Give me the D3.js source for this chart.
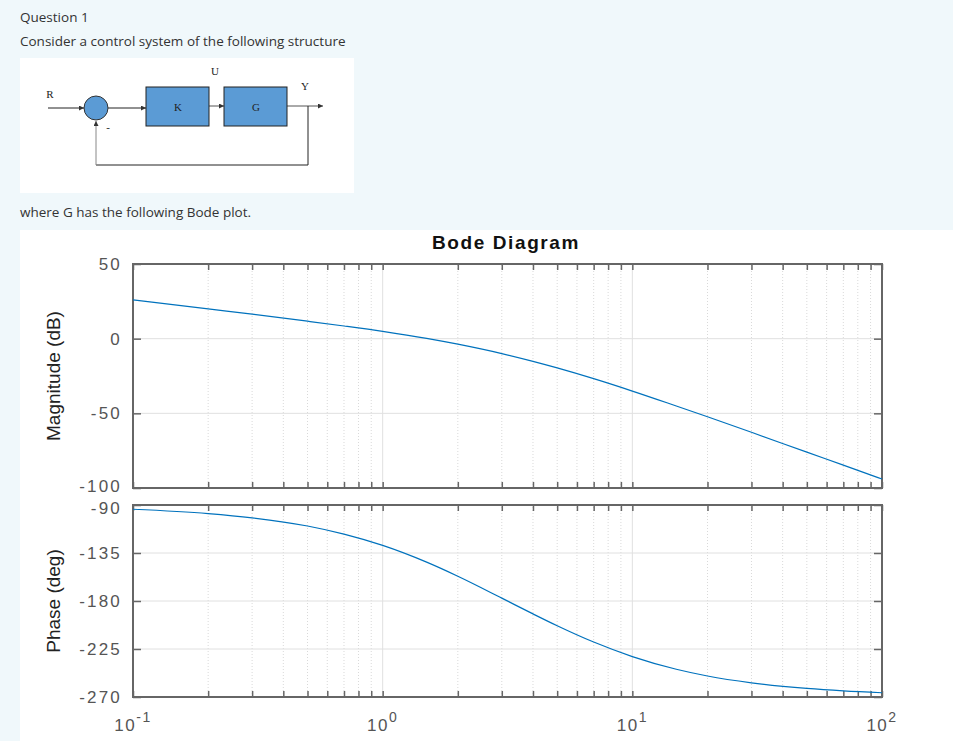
<!DOCTYPE html>
<html><head><meta charset="utf-8">
<script src="https://cdn.jsdelivr.net/npm/d3@7"></script>
<style>
body{margin:0;background:#f0f8fb;}
svg{display:block;}
</style></head>
<body>
<svg id="c" width="953" height="741"></svg>
<script>
// frequency samples (rad/s) and Bode values
const freq = [0.1,0.2,0.3,0.5,0.7,1,1.5,2,3,4,5,7,10,15,20,30,50,70,100];
const magDb = [26.0,19.9,16.4,11.7,8.5,4.9,0.2,-3.7,-10.0,-15.2,-19.6,-26.8,-35.1,-45.1,-52.3,-62.7,-76.0,-84.7,-94.0];
const phaseDeg = [-94.0,-98.0,-102.0,-109.7,-117.3,-127.9,-143.6,-156.8,-177.3,-192.1,-203.2,-218.5,-232.1,-244.0,-250.3,-256.7,-262.0,-264.3,-266.0];
const magTicks = [50,0,-50,-100];
const phaseTicks = [-90,-135,-180,-225,-270];
const decades = [0.1,1,10,100];
const decadeExp = ["-1","0","1","2"];

const svg = d3.select("#c");
const txtFont = "'Open Sans', 'Segoe UI', sans-serif";
const axFont = "Helvetica, 'Liberation Sans', Arial, sans-serif";

// question text
svg.append("text").attr("x",20).attr("y",22).attr("font-family",txtFont).attr("font-size",13.5).attr("fill","#333").text("Question 1");
svg.append("text").attr("x",20).attr("y",46).attr("font-family",txtFont).attr("font-size",13.5).attr("fill","#333").text("Consider a control system of the following structure");
svg.append("text").attr("x",20).attr("y",217).attr("font-family",txtFont).attr("font-size",13.5).attr("fill","#333").text("where G has the following Bode plot.");

// block diagram
const bd = svg.append("g");
bd.append("rect").attr("x",20).attr("y",58).attr("width",334).attr("height",135).attr("fill","#fff");
const ln = (x1,y1,x2,y2,c)=>bd.append("line").attr("x1",x1).attr("y1",y1).attr("x2",x2).attr("y2",y2).attr("stroke",c||"#222").attr("stroke-width",1);
svg.append("defs").append("marker").attr("id","ar").attr("viewBox","0 0 6 6").attr("refX",6).attr("refY",3)
  .attr("markerWidth",5).attr("markerHeight",5).attr("orient","auto")
  .append("path").attr("d","M0,0L6,3L0,6Z").attr("fill","#333");
ln(48,108,84,108).attr("marker-end","url(#ar)");
ln(108,108,146,108).attr("marker-end","url(#ar)");
ln(209,106,224,106,"#555").attr("marker-end","url(#ar)");
ln(287,106,323,106,"#555").attr("marker-end","url(#ar)");
ln(308,106,308,165);
ln(96,165,308,165);
ln(96,165,96,121,"#888").attr("marker-end","url(#ar)");
bd.append("circle").attr("cx",96).attr("cy",108).attr("r",12).attr("fill","#5b9bd5").attr("stroke","#333");
bd.append("rect").attr("x",146).attr("y",87).attr("width",63).attr("height",39).attr("fill","#5b9bd5").attr("stroke","#222");
bd.append("rect").attr("x",224).attr("y",87).attr("width",63).attr("height",39).attr("fill","#5b9bd5").attr("stroke","#222");
const lbl = (x,y,t)=>bd.append("text").attr("x",x).attr("y",y).attr("text-anchor","middle").attr("font-family","'Liberation Serif', serif").attr("font-size",11).attr("fill","#222").text(t);
lbl(178,111,"K"); lbl(256,111,"G"); lbl(50,98,"R"); lbl(215,75,"U"); lbl(305,90,"Y"); lbl(108,131,"-");

// plot card
svg.append("rect").attr("x",20).attr("y",230).attr("width",933).attr("height",511).attr("fill","#fff");

const x = d3.scaleLog().domain([0.1,100]).range([133,882]);
const yM = d3.scaleLinear().domain([-100,50]).range([488,264]);
const yP = d3.scaleLinear().domain([-270,-90]).range([697,505]);

const minors = [];
decades.slice(0,3).forEach(d=>{for(let k=2;k<=9;k++) minors.push(d*k);});

function panel(y, ticks, vals, label, nudge){
  const g = svg.append("g");
  const [y0,y1] = y.range();
  minors.forEach(f=>g.append("line").attr("x1",x(f)).attr("x2",x(f)).attr("y1",y0).attr("y2",y1)
    .attr("stroke","#d9d9d9").attr("stroke-dasharray","1,2"));
  decades.forEach(f=>g.append("line").attr("x1",x(f)).attr("x2",x(f)).attr("y1",y0).attr("y2",y1).attr("stroke","#e0e0e0"));
  ticks.forEach(t=>g.append("line").attr("x1",133).attr("x2",882).attr("y1",y(t)).attr("y2",y(t)).attr("stroke","#e0e0e0"));
  // inward ticks on all sides
  g.append("g").attr("transform","translate(133,0)").call(d3.axisRight(y).tickValues(ticks).tickSize(8).tickFormat(""));
  g.append("g").attr("transform","translate(882,0)").call(d3.axisLeft(y).tickValues(ticks).tickSize(8).tickFormat(""));
  g.append("g").attr("transform",`translate(0,${y0})`).call(d3.axisTop(x).tickValues(decades.concat(minors)).tickSize(6).tickFormat(""));
  g.append("g").attr("transform",`translate(0,${y1})`).call(d3.axisBottom(x).tickValues(decades.concat(minors)).tickSize(6).tickFormat(""));
  g.selectAll(".domain").remove();
  g.selectAll(".tick line").attr("stroke","#666").attr("stroke-width",1.5);
  g.append("rect").attr("x",133).attr("y",y1).attr("width",749).attr("height",y0-y1).attr("fill","none").attr("stroke","#666").attr("stroke-width",2);
  ticks.forEach((t,i)=>g.append("text").attr("x",122).attr("y",y(t)+6+(nudge[i]||0)).attr("text-anchor","end")
    .attr("font-family",axFont).attr("font-size",17).attr("letter-spacing",2.2).attr("fill","#555").text(t<0?"-"+Math.abs(t):t));
  const line = d3.line().x((d,i)=>x(freq[i])).y(d=>y(d)).curve(d3.curveMonotoneX);
  g.append("path").attr("d",line(vals)).attr("fill","none").attr("stroke","#0072bd").attr("stroke-width",1.2);
  const cy = (y0+y1)/2;
  g.append("text").attr("transform",`translate(60,${cy}) rotate(-90)`).attr("text-anchor","middle")
    .attr("font-family",axFont).attr("font-size",19).attr("fill","#222").text(label);
}
panel(yM, magTicks, magDb, "Magnitude (dB)", [0,0,0,-2]);
panel(yP, phaseTicks, phaseDeg, "Phase (deg)", [3,0,0,0,0]);

// x tick labels
decades.forEach((d,i)=>{
  const t = svg.append("text").attr("x",x(d)).attr("y",731).attr("text-anchor","middle")
    .attr("font-family",axFont).attr("font-size",17).attr("letter-spacing",1.5).attr("fill","#555");
  t.append("tspan").text("10");
  t.append("tspan").attr("dy",-9).attr("font-size",14).text(decadeExp[i]);
});

svg.append("text").attr("x",506).attr("y",249).attr("text-anchor","middle").attr("font-family",axFont)
  .attr("font-weight","bold").attr("font-size",19).attr("letter-spacing",1.6).attr("fill","#111").text("Bode Diagram");
</script>
</body></html>
